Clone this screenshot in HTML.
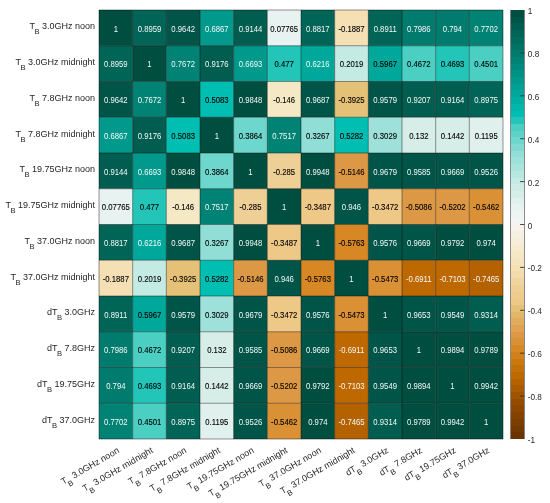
<!DOCTYPE html><html><head><meta charset="utf-8"><style>html,body{margin:0;padding:0;background:#fff;width:550px;height:503px;overflow:hidden}svg{display:block;will-change:transform}text{font-family:"Liberation Sans",sans-serif}</style></head><body>
<svg width="550" height="503" viewBox="0 0 550 503">
<rect x="99.00" y="10.00" width="33.69" height="35.77" fill="#004e40"/>
<rect x="132.67" y="10.00" width="33.69" height="35.77" fill="#006457"/>
<rect x="166.33" y="10.00" width="33.69" height="35.77" fill="#005548"/>
<rect x="200.00" y="10.00" width="33.69" height="35.77" fill="#00998c"/>
<rect x="233.67" y="10.00" width="33.69" height="35.77" fill="#005d4f"/>
<rect x="267.33" y="10.00" width="33.69" height="35.77" fill="#e8f2f0"/>
<rect x="301.00" y="10.00" width="33.69" height="35.77" fill="#006457"/>
<rect x="334.67" y="10.00" width="33.69" height="35.77" fill="#f5e0b6"/>
<rect x="368.33" y="10.00" width="33.69" height="35.77" fill="#006457"/>
<rect x="402.00" y="10.00" width="33.69" height="35.77" fill="#007b6e"/>
<rect x="435.67" y="10.00" width="33.69" height="35.77" fill="#007b6e"/>
<rect x="469.33" y="10.00" width="33.69" height="35.77" fill="#008275"/>
<rect x="99.00" y="45.75" width="33.69" height="35.77" fill="#006457"/>
<rect x="132.67" y="45.75" width="33.69" height="35.77" fill="#004e40"/>
<rect x="166.33" y="45.75" width="33.69" height="35.77" fill="#008275"/>
<rect x="200.00" y="45.75" width="33.69" height="35.77" fill="#005d4f"/>
<rect x="233.67" y="45.75" width="33.69" height="35.77" fill="#00998c"/>
<rect x="267.33" y="45.75" width="33.69" height="35.77" fill="#23c5b9"/>
<rect x="301.00" y="45.75" width="33.69" height="35.77" fill="#00a89b"/>
<rect x="334.67" y="45.75" width="33.69" height="35.77" fill="#c3ebe4"/>
<rect x="368.33" y="45.75" width="33.69" height="35.77" fill="#00a89b"/>
<rect x="402.00" y="45.75" width="33.69" height="35.77" fill="#4ccfc3"/>
<rect x="435.67" y="45.75" width="33.69" height="35.77" fill="#23c5b9"/>
<rect x="469.33" y="45.75" width="33.69" height="35.77" fill="#4ccfc3"/>
<rect x="99.00" y="81.50" width="33.69" height="35.77" fill="#005548"/>
<rect x="132.67" y="81.50" width="33.69" height="35.77" fill="#008275"/>
<rect x="166.33" y="81.50" width="33.69" height="35.77" fill="#004e40"/>
<rect x="200.00" y="81.50" width="33.69" height="35.77" fill="#00beb2"/>
<rect x="233.67" y="81.50" width="33.69" height="35.77" fill="#004e40"/>
<rect x="267.33" y="81.50" width="33.69" height="35.77" fill="#f5e8c5"/>
<rect x="301.00" y="81.50" width="33.69" height="35.77" fill="#005548"/>
<rect x="334.67" y="81.50" width="33.69" height="35.77" fill="#e4c176"/>
<rect x="368.33" y="81.50" width="33.69" height="35.77" fill="#005548"/>
<rect x="402.00" y="81.50" width="33.69" height="35.77" fill="#005d4f"/>
<rect x="435.67" y="81.50" width="33.69" height="35.77" fill="#005d4f"/>
<rect x="469.33" y="81.50" width="33.69" height="35.77" fill="#006457"/>
<rect x="99.00" y="117.25" width="33.69" height="35.77" fill="#00998c"/>
<rect x="132.67" y="117.25" width="33.69" height="35.77" fill="#005d4f"/>
<rect x="166.33" y="117.25" width="33.69" height="35.77" fill="#00beb2"/>
<rect x="200.00" y="117.25" width="33.69" height="35.77" fill="#004e40"/>
<rect x="233.67" y="117.25" width="33.69" height="35.77" fill="#6ed7cd"/>
<rect x="267.33" y="117.25" width="33.69" height="35.77" fill="#008275"/>
<rect x="301.00" y="117.25" width="33.69" height="35.77" fill="#91ded6"/>
<rect x="334.67" y="117.25" width="33.69" height="35.77" fill="#00beb2"/>
<rect x="368.33" y="117.25" width="33.69" height="35.77" fill="#9ee1da"/>
<rect x="402.00" y="117.25" width="33.69" height="35.77" fill="#d7ede8"/>
<rect x="435.67" y="117.25" width="33.69" height="35.77" fill="#d7ede8"/>
<rect x="469.33" y="117.25" width="33.69" height="35.77" fill="#e0f0ec"/>
<rect x="99.00" y="153.00" width="33.69" height="35.77" fill="#005d4f"/>
<rect x="132.67" y="153.00" width="33.69" height="35.77" fill="#00998c"/>
<rect x="166.33" y="153.00" width="33.69" height="35.77" fill="#004e40"/>
<rect x="200.00" y="153.00" width="33.69" height="35.77" fill="#6ed7cd"/>
<rect x="233.67" y="153.00" width="33.69" height="35.77" fill="#004e40"/>
<rect x="267.33" y="153.00" width="33.69" height="35.77" fill="#eed096"/>
<rect x="301.00" y="153.00" width="33.69" height="35.77" fill="#004e40"/>
<rect x="334.67" y="153.00" width="33.69" height="35.77" fill="#dc9844"/>
<rect x="368.33" y="153.00" width="33.69" height="35.77" fill="#005548"/>
<rect x="402.00" y="153.00" width="33.69" height="35.77" fill="#005548"/>
<rect x="435.67" y="153.00" width="33.69" height="35.77" fill="#005548"/>
<rect x="469.33" y="153.00" width="33.69" height="35.77" fill="#005548"/>
<rect x="99.00" y="188.75" width="33.69" height="35.77" fill="#e8f2f0"/>
<rect x="132.67" y="188.75" width="33.69" height="35.77" fill="#23c5b9"/>
<rect x="166.33" y="188.75" width="33.69" height="35.77" fill="#f5e8c5"/>
<rect x="200.00" y="188.75" width="33.69" height="35.77" fill="#008275"/>
<rect x="233.67" y="188.75" width="33.69" height="35.77" fill="#eed096"/>
<rect x="267.33" y="188.75" width="33.69" height="35.77" fill="#004e40"/>
<rect x="301.00" y="188.75" width="33.69" height="35.77" fill="#eec887"/>
<rect x="334.67" y="188.75" width="33.69" height="35.77" fill="#005548"/>
<rect x="368.33" y="188.75" width="33.69" height="35.77" fill="#eec887"/>
<rect x="402.00" y="188.75" width="33.69" height="35.77" fill="#dc9844"/>
<rect x="435.67" y="188.75" width="33.69" height="35.77" fill="#dc9844"/>
<rect x="469.33" y="188.75" width="33.69" height="35.77" fill="#da9034"/>
<rect x="99.00" y="224.50" width="33.69" height="35.77" fill="#006457"/>
<rect x="132.67" y="224.50" width="33.69" height="35.77" fill="#00a89b"/>
<rect x="166.33" y="224.50" width="33.69" height="35.77" fill="#005548"/>
<rect x="200.00" y="224.50" width="33.69" height="35.77" fill="#91ded6"/>
<rect x="233.67" y="224.50" width="33.69" height="35.77" fill="#004e40"/>
<rect x="267.33" y="224.50" width="33.69" height="35.77" fill="#eec887"/>
<rect x="301.00" y="224.50" width="33.69" height="35.77" fill="#004e40"/>
<rect x="334.67" y="224.50" width="33.69" height="35.77" fill="#d78723"/>
<rect x="368.33" y="224.50" width="33.69" height="35.77" fill="#005548"/>
<rect x="402.00" y="224.50" width="33.69" height="35.77" fill="#005548"/>
<rect x="435.67" y="224.50" width="33.69" height="35.77" fill="#004e40"/>
<rect x="469.33" y="224.50" width="33.69" height="35.77" fill="#004e40"/>
<rect x="99.00" y="260.25" width="33.69" height="35.77" fill="#f5e0b6"/>
<rect x="132.67" y="260.25" width="33.69" height="35.77" fill="#c3ebe4"/>
<rect x="166.33" y="260.25" width="33.69" height="35.77" fill="#e4c176"/>
<rect x="200.00" y="260.25" width="33.69" height="35.77" fill="#00beb2"/>
<rect x="233.67" y="260.25" width="33.69" height="35.77" fill="#dc9844"/>
<rect x="267.33" y="260.25" width="33.69" height="35.77" fill="#005548"/>
<rect x="301.00" y="260.25" width="33.69" height="35.77" fill="#d78723"/>
<rect x="334.67" y="260.25" width="33.69" height="35.77" fill="#004e40"/>
<rect x="368.33" y="260.25" width="33.69" height="35.77" fill="#da9034"/>
<rect x="402.00" y="260.25" width="33.69" height="35.77" fill="#be6900"/>
<rect x="435.67" y="260.25" width="33.69" height="35.77" fill="#be6900"/>
<rect x="469.33" y="260.25" width="33.69" height="35.77" fill="#b46200"/>
<rect x="99.00" y="296.00" width="33.69" height="35.77" fill="#006457"/>
<rect x="132.67" y="296.00" width="33.69" height="35.77" fill="#00a89b"/>
<rect x="166.33" y="296.00" width="33.69" height="35.77" fill="#005548"/>
<rect x="200.00" y="296.00" width="33.69" height="35.77" fill="#9ee1da"/>
<rect x="233.67" y="296.00" width="33.69" height="35.77" fill="#005548"/>
<rect x="267.33" y="296.00" width="33.69" height="35.77" fill="#eec887"/>
<rect x="301.00" y="296.00" width="33.69" height="35.77" fill="#005548"/>
<rect x="334.67" y="296.00" width="33.69" height="35.77" fill="#da9034"/>
<rect x="368.33" y="296.00" width="33.69" height="35.77" fill="#004e40"/>
<rect x="402.00" y="296.00" width="33.69" height="35.77" fill="#005548"/>
<rect x="435.67" y="296.00" width="33.69" height="35.77" fill="#005548"/>
<rect x="469.33" y="296.00" width="33.69" height="35.77" fill="#005d4f"/>
<rect x="99.00" y="331.75" width="33.69" height="35.77" fill="#007b6e"/>
<rect x="132.67" y="331.75" width="33.69" height="35.77" fill="#4ccfc3"/>
<rect x="166.33" y="331.75" width="33.69" height="35.77" fill="#005d4f"/>
<rect x="200.00" y="331.75" width="33.69" height="35.77" fill="#d7ede8"/>
<rect x="233.67" y="331.75" width="33.69" height="35.77" fill="#005548"/>
<rect x="267.33" y="331.75" width="33.69" height="35.77" fill="#dc9844"/>
<rect x="301.00" y="331.75" width="33.69" height="35.77" fill="#005548"/>
<rect x="334.67" y="331.75" width="33.69" height="35.77" fill="#be6900"/>
<rect x="368.33" y="331.75" width="33.69" height="35.77" fill="#005548"/>
<rect x="402.00" y="331.75" width="33.69" height="35.77" fill="#004e40"/>
<rect x="435.67" y="331.75" width="33.69" height="35.77" fill="#004e40"/>
<rect x="469.33" y="331.75" width="33.69" height="35.77" fill="#004e40"/>
<rect x="99.00" y="367.50" width="33.69" height="35.77" fill="#007b6e"/>
<rect x="132.67" y="367.50" width="33.69" height="35.77" fill="#23c5b9"/>
<rect x="166.33" y="367.50" width="33.69" height="35.77" fill="#005d4f"/>
<rect x="200.00" y="367.50" width="33.69" height="35.77" fill="#d7ede8"/>
<rect x="233.67" y="367.50" width="33.69" height="35.77" fill="#005548"/>
<rect x="267.33" y="367.50" width="33.69" height="35.77" fill="#dc9844"/>
<rect x="301.00" y="367.50" width="33.69" height="35.77" fill="#004e40"/>
<rect x="334.67" y="367.50" width="33.69" height="35.77" fill="#be6900"/>
<rect x="368.33" y="367.50" width="33.69" height="35.77" fill="#005548"/>
<rect x="402.00" y="367.50" width="33.69" height="35.77" fill="#004e40"/>
<rect x="435.67" y="367.50" width="33.69" height="35.77" fill="#004e40"/>
<rect x="469.33" y="367.50" width="33.69" height="35.77" fill="#004e40"/>
<rect x="99.00" y="403.25" width="33.69" height="35.77" fill="#008275"/>
<rect x="132.67" y="403.25" width="33.69" height="35.77" fill="#4ccfc3"/>
<rect x="166.33" y="403.25" width="33.69" height="35.77" fill="#006457"/>
<rect x="200.00" y="403.25" width="33.69" height="35.77" fill="#e0f0ec"/>
<rect x="233.67" y="403.25" width="33.69" height="35.77" fill="#005548"/>
<rect x="267.33" y="403.25" width="33.69" height="35.77" fill="#da9034"/>
<rect x="301.00" y="403.25" width="33.69" height="35.77" fill="#004e40"/>
<rect x="334.67" y="403.25" width="33.69" height="35.77" fill="#b46200"/>
<rect x="368.33" y="403.25" width="33.69" height="35.77" fill="#005d4f"/>
<rect x="402.00" y="403.25" width="33.69" height="35.77" fill="#004e40"/>
<rect x="435.67" y="403.25" width="33.69" height="35.77" fill="#004e40"/>
<rect x="469.33" y="403.25" width="33.69" height="35.77" fill="#004e40"/>
<path d="M99.00 10.00V439.00M99.00 10.00H503.00M132.67 10.00V439.00M99.00 45.75H503.00M166.33 10.00V439.00M99.00 81.50H503.00M200.00 10.00V439.00M99.00 117.25H503.00M233.67 10.00V439.00M99.00 153.00H503.00M267.33 10.00V439.00M99.00 188.75H503.00M301.00 10.00V439.00M99.00 224.50H503.00M334.67 10.00V439.00M99.00 260.25H503.00M368.33 10.00V439.00M99.00 296.00H503.00M402.00 10.00V439.00M99.00 331.75H503.00M435.67 10.00V439.00M99.00 367.50H503.00M469.33 10.00V439.00M99.00 403.25H503.00M503.00 10.00V439.00M99.00 439.00H503.00" stroke="rgba(0,0,0,0.42)" stroke-width="1" fill="none"/>
<text transform="translate(115.83,31.57) scale(0.92,1)" font-size="8.4" fill="#f4f8f8" text-anchor="middle">1</text>
<text transform="translate(149.50,31.57) scale(0.92,1)" font-size="8.4" fill="#f4f8f8" text-anchor="middle">0.8959</text>
<text transform="translate(183.17,31.57) scale(0.92,1)" font-size="8.4" fill="#f4f8f8" text-anchor="middle">0.9642</text>
<text transform="translate(216.83,31.57) scale(0.92,1)" font-size="8.4" fill="#f4f8f8" text-anchor="middle">0.6867</text>
<text transform="translate(250.50,31.57) scale(0.92,1)" font-size="8.4" fill="#f4f8f8" text-anchor="middle">0.9144</text>
<text transform="translate(284.17,31.57) scale(0.92,1)" font-size="8.4" fill="#000000" stroke="#000" stroke-width="0.12" text-anchor="middle">0.07765</text>
<text transform="translate(317.83,31.57) scale(0.92,1)" font-size="8.4" fill="#f4f8f8" text-anchor="middle">0.8817</text>
<text transform="translate(351.50,31.57) scale(0.92,1)" font-size="8.4" fill="#000000" stroke="#000" stroke-width="0.12" text-anchor="middle">-0.1887</text>
<text transform="translate(385.17,31.57) scale(0.92,1)" font-size="8.4" fill="#f4f8f8" text-anchor="middle">0.8911</text>
<text transform="translate(418.83,31.57) scale(0.92,1)" font-size="8.4" fill="#f4f8f8" text-anchor="middle">0.7986</text>
<text transform="translate(452.50,31.57) scale(0.92,1)" font-size="8.4" fill="#f4f8f8" text-anchor="middle">0.794</text>
<text transform="translate(486.17,31.57) scale(0.92,1)" font-size="8.4" fill="#f4f8f8" text-anchor="middle">0.7702</text>
<text transform="translate(115.83,67.33) scale(0.92,1)" font-size="8.4" fill="#f4f8f8" text-anchor="middle">0.8959</text>
<text transform="translate(149.50,67.33) scale(0.92,1)" font-size="8.4" fill="#f4f8f8" text-anchor="middle">1</text>
<text transform="translate(183.17,67.33) scale(0.92,1)" font-size="8.4" fill="#f4f8f8" text-anchor="middle">0.7672</text>
<text transform="translate(216.83,67.33) scale(0.92,1)" font-size="8.4" fill="#f4f8f8" text-anchor="middle">0.9176</text>
<text transform="translate(250.50,67.33) scale(0.92,1)" font-size="8.4" fill="#f4f8f8" text-anchor="middle">0.6693</text>
<text transform="translate(284.17,67.33) scale(0.92,1)" font-size="8.4" fill="#000000" stroke="#000" stroke-width="0.12" text-anchor="middle">0.477</text>
<text transform="translate(317.83,67.33) scale(0.92,1)" font-size="8.4" fill="#f4f8f8" text-anchor="middle">0.6216</text>
<text transform="translate(351.50,67.33) scale(0.92,1)" font-size="8.4" fill="#000000" stroke="#000" stroke-width="0.12" text-anchor="middle">0.2019</text>
<text transform="translate(385.17,67.33) scale(0.92,1)" font-size="8.4" fill="#000000" stroke="#000" stroke-width="0.12" text-anchor="middle">0.5967</text>
<text transform="translate(418.83,67.33) scale(0.92,1)" font-size="8.4" fill="#000000" stroke="#000" stroke-width="0.12" text-anchor="middle">0.4672</text>
<text transform="translate(452.50,67.33) scale(0.92,1)" font-size="8.4" fill="#000000" stroke="#000" stroke-width="0.12" text-anchor="middle">0.4693</text>
<text transform="translate(486.17,67.33) scale(0.92,1)" font-size="8.4" fill="#000000" stroke="#000" stroke-width="0.12" text-anchor="middle">0.4501</text>
<text transform="translate(115.83,103.08) scale(0.92,1)" font-size="8.4" fill="#f4f8f8" text-anchor="middle">0.9642</text>
<text transform="translate(149.50,103.08) scale(0.92,1)" font-size="8.4" fill="#f4f8f8" text-anchor="middle">0.7672</text>
<text transform="translate(183.17,103.08) scale(0.92,1)" font-size="8.4" fill="#f4f8f8" text-anchor="middle">1</text>
<text transform="translate(216.83,103.08) scale(0.92,1)" font-size="8.4" fill="#000000" stroke="#000" stroke-width="0.12" text-anchor="middle">0.5083</text>
<text transform="translate(250.50,103.08) scale(0.92,1)" font-size="8.4" fill="#f4f8f8" text-anchor="middle">0.9848</text>
<text transform="translate(284.17,103.08) scale(0.92,1)" font-size="8.4" fill="#000000" stroke="#000" stroke-width="0.12" text-anchor="middle">-0.146</text>
<text transform="translate(317.83,103.08) scale(0.92,1)" font-size="8.4" fill="#f4f8f8" text-anchor="middle">0.9687</text>
<text transform="translate(351.50,103.08) scale(0.92,1)" font-size="8.4" fill="#000000" stroke="#000" stroke-width="0.12" text-anchor="middle">-0.3925</text>
<text transform="translate(385.17,103.08) scale(0.92,1)" font-size="8.4" fill="#f4f8f8" text-anchor="middle">0.9579</text>
<text transform="translate(418.83,103.08) scale(0.92,1)" font-size="8.4" fill="#f4f8f8" text-anchor="middle">0.9207</text>
<text transform="translate(452.50,103.08) scale(0.92,1)" font-size="8.4" fill="#f4f8f8" text-anchor="middle">0.9164</text>
<text transform="translate(486.17,103.08) scale(0.92,1)" font-size="8.4" fill="#f4f8f8" text-anchor="middle">0.8975</text>
<text transform="translate(115.83,138.82) scale(0.92,1)" font-size="8.4" fill="#f4f8f8" text-anchor="middle">0.6867</text>
<text transform="translate(149.50,138.82) scale(0.92,1)" font-size="8.4" fill="#f4f8f8" text-anchor="middle">0.9176</text>
<text transform="translate(183.17,138.82) scale(0.92,1)" font-size="8.4" fill="#000000" stroke="#000" stroke-width="0.12" text-anchor="middle">0.5083</text>
<text transform="translate(216.83,138.82) scale(0.92,1)" font-size="8.4" fill="#f4f8f8" text-anchor="middle">1</text>
<text transform="translate(250.50,138.82) scale(0.92,1)" font-size="8.4" fill="#000000" stroke="#000" stroke-width="0.12" text-anchor="middle">0.3864</text>
<text transform="translate(284.17,138.82) scale(0.92,1)" font-size="8.4" fill="#f4f8f8" text-anchor="middle">0.7517</text>
<text transform="translate(317.83,138.82) scale(0.92,1)" font-size="8.4" fill="#000000" stroke="#000" stroke-width="0.12" text-anchor="middle">0.3267</text>
<text transform="translate(351.50,138.82) scale(0.92,1)" font-size="8.4" fill="#000000" stroke="#000" stroke-width="0.12" text-anchor="middle">0.5282</text>
<text transform="translate(385.17,138.82) scale(0.92,1)" font-size="8.4" fill="#000000" stroke="#000" stroke-width="0.12" text-anchor="middle">0.3029</text>
<text transform="translate(418.83,138.82) scale(0.92,1)" font-size="8.4" fill="#000000" stroke="#000" stroke-width="0.12" text-anchor="middle">0.132</text>
<text transform="translate(452.50,138.82) scale(0.92,1)" font-size="8.4" fill="#000000" stroke="#000" stroke-width="0.12" text-anchor="middle">0.1442</text>
<text transform="translate(486.17,138.82) scale(0.92,1)" font-size="8.4" fill="#000000" stroke="#000" stroke-width="0.12" text-anchor="middle">0.1195</text>
<text transform="translate(115.83,174.57) scale(0.92,1)" font-size="8.4" fill="#f4f8f8" text-anchor="middle">0.9144</text>
<text transform="translate(149.50,174.57) scale(0.92,1)" font-size="8.4" fill="#f4f8f8" text-anchor="middle">0.6693</text>
<text transform="translate(183.17,174.57) scale(0.92,1)" font-size="8.4" fill="#f4f8f8" text-anchor="middle">0.9848</text>
<text transform="translate(216.83,174.57) scale(0.92,1)" font-size="8.4" fill="#000000" stroke="#000" stroke-width="0.12" text-anchor="middle">0.3864</text>
<text transform="translate(250.50,174.57) scale(0.92,1)" font-size="8.4" fill="#f4f8f8" text-anchor="middle">1</text>
<text transform="translate(284.17,174.57) scale(0.92,1)" font-size="8.4" fill="#000000" stroke="#000" stroke-width="0.12" text-anchor="middle">-0.285</text>
<text transform="translate(317.83,174.57) scale(0.92,1)" font-size="8.4" fill="#f4f8f8" text-anchor="middle">0.9948</text>
<text transform="translate(351.50,174.57) scale(0.92,1)" font-size="8.4" fill="#000000" stroke="#000" stroke-width="0.12" text-anchor="middle">-0.5146</text>
<text transform="translate(385.17,174.57) scale(0.92,1)" font-size="8.4" fill="#f4f8f8" text-anchor="middle">0.9679</text>
<text transform="translate(418.83,174.57) scale(0.92,1)" font-size="8.4" fill="#f4f8f8" text-anchor="middle">0.9585</text>
<text transform="translate(452.50,174.57) scale(0.92,1)" font-size="8.4" fill="#f4f8f8" text-anchor="middle">0.9669</text>
<text transform="translate(486.17,174.57) scale(0.92,1)" font-size="8.4" fill="#f4f8f8" text-anchor="middle">0.9526</text>
<text transform="translate(115.83,210.32) scale(0.92,1)" font-size="8.4" fill="#000000" stroke="#000" stroke-width="0.12" text-anchor="middle">0.07765</text>
<text transform="translate(149.50,210.32) scale(0.92,1)" font-size="8.4" fill="#000000" stroke="#000" stroke-width="0.12" text-anchor="middle">0.477</text>
<text transform="translate(183.17,210.32) scale(0.92,1)" font-size="8.4" fill="#000000" stroke="#000" stroke-width="0.12" text-anchor="middle">-0.146</text>
<text transform="translate(216.83,210.32) scale(0.92,1)" font-size="8.4" fill="#f4f8f8" text-anchor="middle">0.7517</text>
<text transform="translate(250.50,210.32) scale(0.92,1)" font-size="8.4" fill="#000000" stroke="#000" stroke-width="0.12" text-anchor="middle">-0.285</text>
<text transform="translate(284.17,210.32) scale(0.92,1)" font-size="8.4" fill="#f4f8f8" text-anchor="middle">1</text>
<text transform="translate(317.83,210.32) scale(0.92,1)" font-size="8.4" fill="#000000" stroke="#000" stroke-width="0.12" text-anchor="middle">-0.3487</text>
<text transform="translate(351.50,210.32) scale(0.92,1)" font-size="8.4" fill="#f4f8f8" text-anchor="middle">0.946</text>
<text transform="translate(385.17,210.32) scale(0.92,1)" font-size="8.4" fill="#000000" stroke="#000" stroke-width="0.12" text-anchor="middle">-0.3472</text>
<text transform="translate(418.83,210.32) scale(0.92,1)" font-size="8.4" fill="#000000" stroke="#000" stroke-width="0.12" text-anchor="middle">-0.5086</text>
<text transform="translate(452.50,210.32) scale(0.92,1)" font-size="8.4" fill="#000000" stroke="#000" stroke-width="0.12" text-anchor="middle">-0.5202</text>
<text transform="translate(486.17,210.32) scale(0.92,1)" font-size="8.4" fill="#000000" stroke="#000" stroke-width="0.12" text-anchor="middle">-0.5462</text>
<text transform="translate(115.83,246.07) scale(0.92,1)" font-size="8.4" fill="#f4f8f8" text-anchor="middle">0.8817</text>
<text transform="translate(149.50,246.07) scale(0.92,1)" font-size="8.4" fill="#f4f8f8" text-anchor="middle">0.6216</text>
<text transform="translate(183.17,246.07) scale(0.92,1)" font-size="8.4" fill="#f4f8f8" text-anchor="middle">0.9687</text>
<text transform="translate(216.83,246.07) scale(0.92,1)" font-size="8.4" fill="#000000" stroke="#000" stroke-width="0.12" text-anchor="middle">0.3267</text>
<text transform="translate(250.50,246.07) scale(0.92,1)" font-size="8.4" fill="#f4f8f8" text-anchor="middle">0.9948</text>
<text transform="translate(284.17,246.07) scale(0.92,1)" font-size="8.4" fill="#000000" stroke="#000" stroke-width="0.12" text-anchor="middle">-0.3487</text>
<text transform="translate(317.83,246.07) scale(0.92,1)" font-size="8.4" fill="#f4f8f8" text-anchor="middle">1</text>
<text transform="translate(351.50,246.07) scale(0.92,1)" font-size="8.4" fill="#000000" stroke="#000" stroke-width="0.12" text-anchor="middle">-0.5763</text>
<text transform="translate(385.17,246.07) scale(0.92,1)" font-size="8.4" fill="#f4f8f8" text-anchor="middle">0.9576</text>
<text transform="translate(418.83,246.07) scale(0.92,1)" font-size="8.4" fill="#f4f8f8" text-anchor="middle">0.9669</text>
<text transform="translate(452.50,246.07) scale(0.92,1)" font-size="8.4" fill="#f4f8f8" text-anchor="middle">0.9792</text>
<text transform="translate(486.17,246.07) scale(0.92,1)" font-size="8.4" fill="#f4f8f8" text-anchor="middle">0.974</text>
<text transform="translate(115.83,281.82) scale(0.92,1)" font-size="8.4" fill="#000000" stroke="#000" stroke-width="0.12" text-anchor="middle">-0.1887</text>
<text transform="translate(149.50,281.82) scale(0.92,1)" font-size="8.4" fill="#000000" stroke="#000" stroke-width="0.12" text-anchor="middle">0.2019</text>
<text transform="translate(183.17,281.82) scale(0.92,1)" font-size="8.4" fill="#000000" stroke="#000" stroke-width="0.12" text-anchor="middle">-0.3925</text>
<text transform="translate(216.83,281.82) scale(0.92,1)" font-size="8.4" fill="#000000" stroke="#000" stroke-width="0.12" text-anchor="middle">0.5282</text>
<text transform="translate(250.50,281.82) scale(0.92,1)" font-size="8.4" fill="#000000" stroke="#000" stroke-width="0.12" text-anchor="middle">-0.5146</text>
<text transform="translate(284.17,281.82) scale(0.92,1)" font-size="8.4" fill="#f4f8f8" text-anchor="middle">0.946</text>
<text transform="translate(317.83,281.82) scale(0.92,1)" font-size="8.4" fill="#000000" stroke="#000" stroke-width="0.12" text-anchor="middle">-0.5763</text>
<text transform="translate(351.50,281.82) scale(0.92,1)" font-size="8.4" fill="#f4f8f8" text-anchor="middle">1</text>
<text transform="translate(385.17,281.82) scale(0.92,1)" font-size="8.4" fill="#000000" stroke="#000" stroke-width="0.12" text-anchor="middle">-0.5473</text>
<text transform="translate(418.83,281.82) scale(0.92,1)" font-size="8.4" fill="#f4f8f8" text-anchor="middle">-0.6911</text>
<text transform="translate(452.50,281.82) scale(0.92,1)" font-size="8.4" fill="#f4f8f8" text-anchor="middle">-0.7103</text>
<text transform="translate(486.17,281.82) scale(0.92,1)" font-size="8.4" fill="#f4f8f8" text-anchor="middle">-0.7465</text>
<text transform="translate(115.83,317.57) scale(0.92,1)" font-size="8.4" fill="#f4f8f8" text-anchor="middle">0.8911</text>
<text transform="translate(149.50,317.57) scale(0.92,1)" font-size="8.4" fill="#000000" stroke="#000" stroke-width="0.12" text-anchor="middle">0.5967</text>
<text transform="translate(183.17,317.57) scale(0.92,1)" font-size="8.4" fill="#f4f8f8" text-anchor="middle">0.9579</text>
<text transform="translate(216.83,317.57) scale(0.92,1)" font-size="8.4" fill="#000000" stroke="#000" stroke-width="0.12" text-anchor="middle">0.3029</text>
<text transform="translate(250.50,317.57) scale(0.92,1)" font-size="8.4" fill="#f4f8f8" text-anchor="middle">0.9679</text>
<text transform="translate(284.17,317.57) scale(0.92,1)" font-size="8.4" fill="#000000" stroke="#000" stroke-width="0.12" text-anchor="middle">-0.3472</text>
<text transform="translate(317.83,317.57) scale(0.92,1)" font-size="8.4" fill="#f4f8f8" text-anchor="middle">0.9576</text>
<text transform="translate(351.50,317.57) scale(0.92,1)" font-size="8.4" fill="#000000" stroke="#000" stroke-width="0.12" text-anchor="middle">-0.5473</text>
<text transform="translate(385.17,317.57) scale(0.92,1)" font-size="8.4" fill="#f4f8f8" text-anchor="middle">1</text>
<text transform="translate(418.83,317.57) scale(0.92,1)" font-size="8.4" fill="#f4f8f8" text-anchor="middle">0.9653</text>
<text transform="translate(452.50,317.57) scale(0.92,1)" font-size="8.4" fill="#f4f8f8" text-anchor="middle">0.9549</text>
<text transform="translate(486.17,317.57) scale(0.92,1)" font-size="8.4" fill="#f4f8f8" text-anchor="middle">0.9314</text>
<text transform="translate(115.83,353.32) scale(0.92,1)" font-size="8.4" fill="#f4f8f8" text-anchor="middle">0.7986</text>
<text transform="translate(149.50,353.32) scale(0.92,1)" font-size="8.4" fill="#000000" stroke="#000" stroke-width="0.12" text-anchor="middle">0.4672</text>
<text transform="translate(183.17,353.32) scale(0.92,1)" font-size="8.4" fill="#f4f8f8" text-anchor="middle">0.9207</text>
<text transform="translate(216.83,353.32) scale(0.92,1)" font-size="8.4" fill="#000000" stroke="#000" stroke-width="0.12" text-anchor="middle">0.132</text>
<text transform="translate(250.50,353.32) scale(0.92,1)" font-size="8.4" fill="#f4f8f8" text-anchor="middle">0.9585</text>
<text transform="translate(284.17,353.32) scale(0.92,1)" font-size="8.4" fill="#000000" stroke="#000" stroke-width="0.12" text-anchor="middle">-0.5086</text>
<text transform="translate(317.83,353.32) scale(0.92,1)" font-size="8.4" fill="#f4f8f8" text-anchor="middle">0.9669</text>
<text transform="translate(351.50,353.32) scale(0.92,1)" font-size="8.4" fill="#f4f8f8" text-anchor="middle">-0.6911</text>
<text transform="translate(385.17,353.32) scale(0.92,1)" font-size="8.4" fill="#f4f8f8" text-anchor="middle">0.9653</text>
<text transform="translate(418.83,353.32) scale(0.92,1)" font-size="8.4" fill="#f4f8f8" text-anchor="middle">1</text>
<text transform="translate(452.50,353.32) scale(0.92,1)" font-size="8.4" fill="#f4f8f8" text-anchor="middle">0.9894</text>
<text transform="translate(486.17,353.32) scale(0.92,1)" font-size="8.4" fill="#f4f8f8" text-anchor="middle">0.9789</text>
<text transform="translate(115.83,389.07) scale(0.92,1)" font-size="8.4" fill="#f4f8f8" text-anchor="middle">0.794</text>
<text transform="translate(149.50,389.07) scale(0.92,1)" font-size="8.4" fill="#000000" stroke="#000" stroke-width="0.12" text-anchor="middle">0.4693</text>
<text transform="translate(183.17,389.07) scale(0.92,1)" font-size="8.4" fill="#f4f8f8" text-anchor="middle">0.9164</text>
<text transform="translate(216.83,389.07) scale(0.92,1)" font-size="8.4" fill="#000000" stroke="#000" stroke-width="0.12" text-anchor="middle">0.1442</text>
<text transform="translate(250.50,389.07) scale(0.92,1)" font-size="8.4" fill="#f4f8f8" text-anchor="middle">0.9669</text>
<text transform="translate(284.17,389.07) scale(0.92,1)" font-size="8.4" fill="#000000" stroke="#000" stroke-width="0.12" text-anchor="middle">-0.5202</text>
<text transform="translate(317.83,389.07) scale(0.92,1)" font-size="8.4" fill="#f4f8f8" text-anchor="middle">0.9792</text>
<text transform="translate(351.50,389.07) scale(0.92,1)" font-size="8.4" fill="#f4f8f8" text-anchor="middle">-0.7103</text>
<text transform="translate(385.17,389.07) scale(0.92,1)" font-size="8.4" fill="#f4f8f8" text-anchor="middle">0.9549</text>
<text transform="translate(418.83,389.07) scale(0.92,1)" font-size="8.4" fill="#f4f8f8" text-anchor="middle">0.9894</text>
<text transform="translate(452.50,389.07) scale(0.92,1)" font-size="8.4" fill="#f4f8f8" text-anchor="middle">1</text>
<text transform="translate(486.17,389.07) scale(0.92,1)" font-size="8.4" fill="#f4f8f8" text-anchor="middle">0.9942</text>
<text transform="translate(115.83,424.82) scale(0.92,1)" font-size="8.4" fill="#f4f8f8" text-anchor="middle">0.7702</text>
<text transform="translate(149.50,424.82) scale(0.92,1)" font-size="8.4" fill="#000000" stroke="#000" stroke-width="0.12" text-anchor="middle">0.4501</text>
<text transform="translate(183.17,424.82) scale(0.92,1)" font-size="8.4" fill="#f4f8f8" text-anchor="middle">0.8975</text>
<text transform="translate(216.83,424.82) scale(0.92,1)" font-size="8.4" fill="#000000" stroke="#000" stroke-width="0.12" text-anchor="middle">0.1195</text>
<text transform="translate(250.50,424.82) scale(0.92,1)" font-size="8.4" fill="#f4f8f8" text-anchor="middle">0.9526</text>
<text transform="translate(284.17,424.82) scale(0.92,1)" font-size="8.4" fill="#000000" stroke="#000" stroke-width="0.12" text-anchor="middle">-0.5462</text>
<text transform="translate(317.83,424.82) scale(0.92,1)" font-size="8.4" fill="#f4f8f8" text-anchor="middle">0.974</text>
<text transform="translate(351.50,424.82) scale(0.92,1)" font-size="8.4" fill="#f4f8f8" text-anchor="middle">-0.7465</text>
<text transform="translate(385.17,424.82) scale(0.92,1)" font-size="8.4" fill="#f4f8f8" text-anchor="middle">0.9314</text>
<text transform="translate(418.83,424.82) scale(0.92,1)" font-size="8.4" fill="#f4f8f8" text-anchor="middle">0.9789</text>
<text transform="translate(452.50,424.82) scale(0.92,1)" font-size="8.4" fill="#f4f8f8" text-anchor="middle">0.9942</text>
<text transform="translate(486.17,424.82) scale(0.92,1)" font-size="8.4" fill="#f4f8f8" text-anchor="middle">1</text>
<text x="95.00" y="29.38" font-size="9" fill="#262626" text-anchor="end">T<tspan font-size="7.6" dx="-0.7" dy="4.9">B</tspan><tspan dy="-4.9"> 3.0GHz noon</tspan></text>
<text x="95.00" y="65.12" font-size="9" fill="#262626" text-anchor="end">T<tspan font-size="7.6" dx="-0.7" dy="4.9">B</tspan><tspan dy="-4.9"> 3.0GHz midnight</tspan></text>
<text x="95.00" y="100.88" font-size="9" fill="#262626" text-anchor="end">T<tspan font-size="7.6" dx="-0.7" dy="4.9">B</tspan><tspan dy="-4.9"> 7.8GHz noon</tspan></text>
<text x="95.00" y="136.62" font-size="9" fill="#262626" text-anchor="end">T<tspan font-size="7.6" dx="-0.7" dy="4.9">B</tspan><tspan dy="-4.9"> 7.8GHz midnight</tspan></text>
<text x="95.00" y="172.38" font-size="9" fill="#262626" text-anchor="end">T<tspan font-size="7.6" dx="-0.7" dy="4.9">B</tspan><tspan dy="-4.9"> 19.75GHz noon</tspan></text>
<text x="95.00" y="208.12" font-size="9" fill="#262626" text-anchor="end">T<tspan font-size="7.6" dx="-0.7" dy="4.9">B</tspan><tspan dy="-4.9"> 19.75GHz midnight</tspan></text>
<text x="95.00" y="243.88" font-size="9" fill="#262626" text-anchor="end">T<tspan font-size="7.6" dx="-0.7" dy="4.9">B</tspan><tspan dy="-4.9"> 37.0GHz noon</tspan></text>
<text x="95.00" y="279.62" font-size="9" fill="#262626" text-anchor="end">T<tspan font-size="7.6" dx="-0.7" dy="4.9">B</tspan><tspan dy="-4.9"> 37.0GHz midnight</tspan></text>
<text x="95.00" y="315.38" font-size="9" fill="#262626" text-anchor="end">dT<tspan font-size="7.6" dx="-0.7" dy="4.9">B</tspan><tspan dy="-4.9"> 3.0GHz</tspan></text>
<text x="95.00" y="351.12" font-size="9" fill="#262626" text-anchor="end">dT<tspan font-size="7.6" dx="-0.7" dy="4.9">B</tspan><tspan dy="-4.9"> 7.8GHz</tspan></text>
<text x="95.00" y="386.88" font-size="9" fill="#262626" text-anchor="end">dT<tspan font-size="7.6" dx="-0.7" dy="4.9">B</tspan><tspan dy="-4.9"> 19.75GHz</tspan></text>
<text x="95.00" y="422.62" font-size="9" fill="#262626" text-anchor="end">dT<tspan font-size="7.6" dx="-0.7" dy="4.9">B</tspan><tspan dy="-4.9"> 37.0GHz</tspan></text>
<text transform="translate(116.63,446.50) rotate(-30)" x="0" y="6.48" font-size="9" fill="#262626" text-anchor="end">T<tspan font-size="7.6" dx="-0.7" dy="4.9">B</tspan><tspan dy="-4.9"> 3.0GHz noon</tspan></text>
<text transform="translate(150.30,446.50) rotate(-30)" x="0" y="6.48" font-size="9" fill="#262626" text-anchor="end">T<tspan font-size="7.6" dx="-0.7" dy="4.9">B</tspan><tspan dy="-4.9"> 3.0GHz midnight</tspan></text>
<text transform="translate(183.97,446.50) rotate(-30)" x="0" y="6.48" font-size="9" fill="#262626" text-anchor="end">T<tspan font-size="7.6" dx="-0.7" dy="4.9">B</tspan><tspan dy="-4.9"> 7.8GHz noon</tspan></text>
<text transform="translate(217.63,446.50) rotate(-30)" x="0" y="6.48" font-size="9" fill="#262626" text-anchor="end">T<tspan font-size="7.6" dx="-0.7" dy="4.9">B</tspan><tspan dy="-4.9"> 7.8GHz midnight</tspan></text>
<text transform="translate(251.30,446.50) rotate(-30)" x="0" y="6.48" font-size="9" fill="#262626" text-anchor="end">T<tspan font-size="7.6" dx="-0.7" dy="4.9">B</tspan><tspan dy="-4.9"> 19.75GHz noon</tspan></text>
<text transform="translate(284.97,446.50) rotate(-30)" x="0" y="6.48" font-size="9" fill="#262626" text-anchor="end">T<tspan font-size="7.6" dx="-0.7" dy="4.9">B</tspan><tspan dy="-4.9"> 19.75GHz midnight</tspan></text>
<text transform="translate(318.63,446.50) rotate(-30)" x="0" y="6.48" font-size="9" fill="#262626" text-anchor="end">T<tspan font-size="7.6" dx="-0.7" dy="4.9">B</tspan><tspan dy="-4.9"> 37.0GHz noon</tspan></text>
<text transform="translate(352.30,446.50) rotate(-30)" x="0" y="6.48" font-size="9" fill="#262626" text-anchor="end">T<tspan font-size="7.6" dx="-0.7" dy="4.9">B</tspan><tspan dy="-4.9"> 37.0GHz midnight</tspan></text>
<text transform="translate(385.97,446.50) rotate(-30)" x="0" y="6.48" font-size="9" fill="#262626" text-anchor="end">dT<tspan font-size="7.6" dx="-0.7" dy="4.9">B</tspan><tspan dy="-4.9"> 3.0GHz</tspan></text>
<text transform="translate(419.63,446.50) rotate(-30)" x="0" y="6.48" font-size="9" fill="#262626" text-anchor="end">dT<tspan font-size="7.6" dx="-0.7" dy="4.9">B</tspan><tspan dy="-4.9"> 7.8GHz</tspan></text>
<text transform="translate(453.30,446.50) rotate(-30)" x="0" y="6.48" font-size="9" fill="#262626" text-anchor="end">dT<tspan font-size="7.6" dx="-0.7" dy="4.9">B</tspan><tspan dy="-4.9"> 19.75GHz</tspan></text>
<text transform="translate(486.97,446.50) rotate(-30)" x="0" y="6.48" font-size="9" fill="#262626" text-anchor="end">dT<tspan font-size="7.6" dx="-0.7" dy="4.9">B</tspan><tspan dy="-4.9"> 37.0GHz</tspan></text>
<defs><linearGradient id="cb" x1="0" y1="0" x2="0" y2="1"><stop offset="0.00000" stop-color="#004e40"/><stop offset="0.01562" stop-color="#004e40"/><stop offset="0.01562" stop-color="#005548"/><stop offset="0.03125" stop-color="#005548"/><stop offset="0.03125" stop-color="#005d4f"/><stop offset="0.04688" stop-color="#005d4f"/><stop offset="0.04688" stop-color="#006457"/><stop offset="0.06250" stop-color="#006457"/><stop offset="0.06250" stop-color="#006c5e"/><stop offset="0.07812" stop-color="#006c5e"/><stop offset="0.07812" stop-color="#007366"/><stop offset="0.09375" stop-color="#007366"/><stop offset="0.09375" stop-color="#007b6e"/><stop offset="0.10938" stop-color="#007b6e"/><stop offset="0.10938" stop-color="#008275"/><stop offset="0.12500" stop-color="#008275"/><stop offset="0.12500" stop-color="#008a7d"/><stop offset="0.14062" stop-color="#008a7d"/><stop offset="0.14062" stop-color="#009184"/><stop offset="0.15625" stop-color="#009184"/><stop offset="0.15625" stop-color="#00998c"/><stop offset="0.17188" stop-color="#00998c"/><stop offset="0.17188" stop-color="#00a094"/><stop offset="0.18750" stop-color="#00a094"/><stop offset="0.18750" stop-color="#00a89b"/><stop offset="0.20312" stop-color="#00a89b"/><stop offset="0.20312" stop-color="#00afa3"/><stop offset="0.21875" stop-color="#00afa3"/><stop offset="0.21875" stop-color="#00b7aa"/><stop offset="0.23438" stop-color="#00b7aa"/><stop offset="0.23438" stop-color="#00beb2"/><stop offset="0.25000" stop-color="#00beb2"/><stop offset="0.25000" stop-color="#23c5b9"/><stop offset="0.26562" stop-color="#23c5b9"/><stop offset="0.26562" stop-color="#4ccfc3"/><stop offset="0.28125" stop-color="#4ccfc3"/><stop offset="0.28125" stop-color="#5dd3c8"/><stop offset="0.29688" stop-color="#5dd3c8"/><stop offset="0.29688" stop-color="#6ed7cd"/><stop offset="0.31250" stop-color="#6ed7cd"/><stop offset="0.31250" stop-color="#80dad2"/><stop offset="0.32812" stop-color="#80dad2"/><stop offset="0.32812" stop-color="#91ded6"/><stop offset="0.34375" stop-color="#91ded6"/><stop offset="0.34375" stop-color="#9ee1da"/><stop offset="0.35938" stop-color="#9ee1da"/><stop offset="0.35938" stop-color="#aae4dd"/><stop offset="0.37500" stop-color="#aae4dd"/><stop offset="0.37500" stop-color="#b6e8e0"/><stop offset="0.39062" stop-color="#b6e8e0"/><stop offset="0.39062" stop-color="#c3ebe4"/><stop offset="0.40625" stop-color="#c3ebe4"/><stop offset="0.40625" stop-color="#cdece6"/><stop offset="0.42188" stop-color="#cdece6"/><stop offset="0.42188" stop-color="#d7ede8"/><stop offset="0.43750" stop-color="#d7ede8"/><stop offset="0.43750" stop-color="#e0f0ec"/><stop offset="0.45312" stop-color="#e0f0ec"/><stop offset="0.45312" stop-color="#e8f2f0"/><stop offset="0.46875" stop-color="#e8f2f0"/><stop offset="0.46875" stop-color="#eef4f2"/><stop offset="0.48438" stop-color="#eef4f2"/><stop offset="0.48438" stop-color="#f3f5f4"/><stop offset="0.50000" stop-color="#f3f5f4"/><stop offset="0.50000" stop-color="#f7f3ec"/><stop offset="0.51562" stop-color="#f7f3ec"/><stop offset="0.51562" stop-color="#f6f0e2"/><stop offset="0.53125" stop-color="#f6f0e2"/><stop offset="0.53125" stop-color="#f6eed8"/><stop offset="0.54688" stop-color="#f6eed8"/><stop offset="0.54688" stop-color="#f6ebcf"/><stop offset="0.56250" stop-color="#f6ebcf"/><stop offset="0.56250" stop-color="#f5e8c5"/><stop offset="0.57812" stop-color="#f5e8c5"/><stop offset="0.57812" stop-color="#f5e4be"/><stop offset="0.59375" stop-color="#f5e4be"/><stop offset="0.59375" stop-color="#f5e0b6"/><stop offset="0.60938" stop-color="#f5e0b6"/><stop offset="0.60938" stop-color="#f3dbab"/><stop offset="0.62500" stop-color="#f3dbab"/><stop offset="0.62500" stop-color="#f0d5a1"/><stop offset="0.64062" stop-color="#f0d5a1"/><stop offset="0.64062" stop-color="#eed096"/><stop offset="0.65625" stop-color="#eed096"/><stop offset="0.65625" stop-color="#eecc8e"/><stop offset="0.67188" stop-color="#eecc8e"/><stop offset="0.67188" stop-color="#eec887"/><stop offset="0.68750" stop-color="#eec887"/><stop offset="0.68750" stop-color="#e4c176"/><stop offset="0.70312" stop-color="#e4c176"/><stop offset="0.70312" stop-color="#e2b76a"/><stop offset="0.71875" stop-color="#e2b76a"/><stop offset="0.71875" stop-color="#e0ac5d"/><stop offset="0.73438" stop-color="#e0ac5d"/><stop offset="0.73438" stop-color="#dea250"/><stop offset="0.75000" stop-color="#dea250"/><stop offset="0.75000" stop-color="#dc9844"/><stop offset="0.76562" stop-color="#dc9844"/><stop offset="0.76562" stop-color="#da9034"/><stop offset="0.78125" stop-color="#da9034"/><stop offset="0.78125" stop-color="#d78723"/><stop offset="0.79688" stop-color="#d78723"/><stop offset="0.79688" stop-color="#d1801a"/><stop offset="0.81250" stop-color="#d1801a"/><stop offset="0.81250" stop-color="#ca7812"/><stop offset="0.82812" stop-color="#ca7812"/><stop offset="0.82812" stop-color="#c47009"/><stop offset="0.84375" stop-color="#c47009"/><stop offset="0.84375" stop-color="#be6900"/><stop offset="0.85938" stop-color="#be6900"/><stop offset="0.85938" stop-color="#b46200"/><stop offset="0.87500" stop-color="#b46200"/><stop offset="0.87500" stop-color="#aa5b00"/><stop offset="0.89062" stop-color="#aa5b00"/><stop offset="0.89062" stop-color="#a05300"/><stop offset="0.90625" stop-color="#a05300"/><stop offset="0.90625" stop-color="#964c00"/><stop offset="0.92188" stop-color="#964c00"/><stop offset="0.92188" stop-color="#8d4700"/><stop offset="0.93750" stop-color="#8d4700"/><stop offset="0.93750" stop-color="#844200"/><stop offset="0.95312" stop-color="#844200"/><stop offset="0.95312" stop-color="#7b3e00"/><stop offset="0.96875" stop-color="#7b3e00"/><stop offset="0.96875" stop-color="#723900"/><stop offset="0.98438" stop-color="#723900"/><stop offset="0.98438" stop-color="#693400"/><stop offset="1.00000" stop-color="#693400"/></linearGradient></defs>
<rect x="510.50" y="10.00" width="14.00" height="429.00" fill="url(#cb)"/>
<path d="M510.50 10.00V439.00M524.50 10.00V439.00" stroke="#808080" stroke-width="0.9" fill="none"/>
<text x="527.80" y="14.00" font-size="8.2" fill="#262626">1</text>
<text x="527.80" y="56.90" font-size="8.2" fill="#262626">0.8</text>
<text x="527.80" y="99.80" font-size="8.2" fill="#262626">0.6</text>
<text x="527.80" y="142.70" font-size="8.2" fill="#262626">0.4</text>
<text x="527.80" y="185.60" font-size="8.2" fill="#262626">0.2</text>
<text x="527.80" y="228.50" font-size="8.2" fill="#262626">0</text>
<text x="527.80" y="271.40" font-size="8.2" fill="#262626">-0.2</text>
<text x="527.80" y="314.30" font-size="8.2" fill="#262626">-0.4</text>
<text x="527.80" y="357.20" font-size="8.2" fill="#262626">-0.6</text>
<text x="527.80" y="400.10" font-size="8.2" fill="#262626">-0.8</text>
<text x="527.80" y="443.00" font-size="8.2" fill="#262626">-1</text>
<path d="M524.50 52.90h-4.4M524.50 95.80h-4.4M524.50 138.70h-4.4M524.50 181.60h-4.4M524.50 224.50h-4.4M524.50 267.40h-4.4M524.50 310.30h-4.4M524.50 353.20h-4.4M524.50 396.10h-4.4" stroke="#333" stroke-width="0.9" fill="none"/>
</svg></body></html>
